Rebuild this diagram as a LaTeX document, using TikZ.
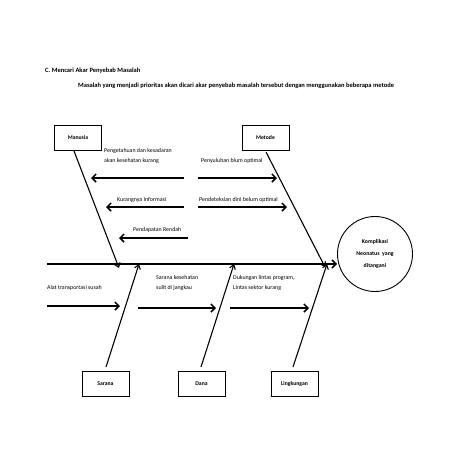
\documentclass[tikz,border=0pt]{standalone}
\usepackage{fontspec}
\setmainfont{Carlito}
\usetikzlibrary{arrows.meta}
\begin{document}
\begin{tikzpicture}[x=1pt,y=-1pt,
  catbox/.style={draw,line width=0.9pt,minimum width=47pt,minimum height=25pt,inner sep=0pt,font=\fontsize{5.7}{6}\selectfont\bfseries},
  bone/.style={line width=1.1pt,-{Straight Barb[length=4pt,width=6pt,line width=1.1pt]}},
  causearr/.style={line width=1.8pt,-{Straight Barb[length=4pt,width=8pt,line width=1.5pt]}},
  lbl/.style={font=\fontsize{5.9}{10}\selectfont,inner sep=0pt,anchor=base west,align=left},
]
\useasboundingbox (0,0) rectangle (453,453);
% titles
\node[font=\fontsize{6.5}{7}\selectfont\bfseries,anchor=base west,inner sep=0pt] (title) at (45,72) {C. Mencari Akar Penyebab Masalah};
\node[font=\fontsize{6.5}{7}\selectfont\bfseries,anchor=base west,inner sep=0pt] (sub) at (78,87) {Masalah yang menjadi prioritas akan dicari akar penyebab masalah tersebut dengan menggunakan beberapa metode};
% category boxes
\node[catbox] (man) at (78,137.5) {Manusia};
\node[catbox] (met) at (265.5,137.5) {Metode};
\node[catbox] (sar) at (105.5,383.5) {Sarana};
\node[catbox] (dan) at (201.5,383.5) {Dana};
\node[catbox] (lin) at (294.5,383.5) {Lingkungan};
% head
\node[draw,circle,line width=0.9pt,minimum size=75pt,inner sep=0pt,align=center,font=\fontsize{5.8}{12}\selectfont\bfseries] (head) at (375,254) {Komplikasi\\Neonatus\ \ yang\\ditangani};
% spine
\coordinate (spL) at (47,264);
\draw[line width=1.8pt,-{Straight Barb[length=4pt,width=8pt,line width=1.5pt]}] (spL) -- (spL -| head.west);
% bones
\coordinate (manT) at (74,151);
\coordinate (manE) at (119,268);
\coordinate (metT) at (266,152);
\coordinate (metE) at (325,267);
\coordinate (sarT) at (106,367);
\coordinate (sarE) at (139,264);
\coordinate (danT) at (201,367);
\coordinate (danE) at (234,264);
\coordinate (linT) at (293,367);
\coordinate (linE) at (327,264);
\draw[bone] (manT) -- (manE);
\draw[bone] (metT) -- (metE);
\draw[bone] (sarT) -- (sarE);
\draw[bone] (danT) -- (danE);
\draw[bone] (linT) -- (linE);
% upper-left causes
\coordinate (a1s) at (184,178); \coordinate (a1e) at (91,178);
\coordinate (a2s) at (184,207); \coordinate (a2e) at (106,207);
\coordinate (a3s) at (188,238); \coordinate (a3e) at (119,238);
\draw[causearr] (a1s) -- (a1e);
\draw[causearr] (a2s) -- (a2e);
\draw[causearr] (a3s) -- (a3e);
\node[lbl] (t1) at (104,162) {Pengetahuan dan kesadaran\\akan kesehatan kurang};
\node[lbl] (t2) at (117,201) {Kurangnya Informasi};
\node[lbl] (t3) at (133,231) {Pendapatan Rendah};
% upper-right causes
\coordinate (b1s) at (198,178); \coordinate (b1e) at (277,178);
\coordinate (b2s) at (198,207); \coordinate (b2e) at (287,207);
\draw[causearr] (b1s) -- (b1e);
\draw[causearr] (b2s) -- (b2e);
\node[lbl] (u1) at (201,162) {Penyuluhan blum optimal};
\node[lbl] (u2) at (199,201) {Pendeteksian dini belum optimal};
% lower causes
\coordinate (c1s) at (47,306); \coordinate (c1e) at (120,306);
\coordinate (c2s) at (138,308); \coordinate (c2e) at (216,308);
\coordinate (c3s) at (230,308); \coordinate (c3e) at (309,308);
\draw[causearr] (c1s) -- (c1e);
\draw[causearr] (c2s) -- (c2e);
\draw[causearr] (c3s) -- (c3e);
\node[lbl] (v1) at (47,289) {Alat transportasi susah};
\node[lbl] (v2) at (156,289) {Sarana kesehatan\\sulit di jangkau};
\node[lbl] (v3) at (233,289) {Dukungan lintas program,\\Lintas sektor kurang};
\end{tikzpicture}
\end{document}
